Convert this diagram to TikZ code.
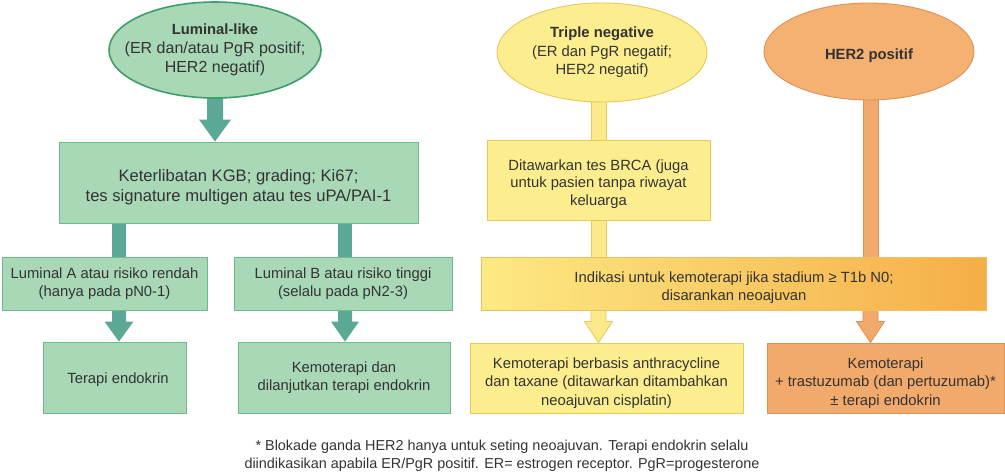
\documentclass[tikz,border=0pt]{standalone}
\usepackage{fontspec}
\setmainfont{Liberation Sans}
\usetikzlibrary{shapes.geometric,calc}
\pgfdeclarelayer{back}
\pgfdeclarelayer{bg}
\pgfsetlayers{back,bg,main}
\newcommand\strutdn[1]{\rule{0pt}{#1}}
\definecolor{txt}{HTML}{333333}
\definecolor{gfill}{HTML}{A8D8B6}
\definecolor{gborder}{HTML}{6DBB8A}
\definecolor{gellborder}{HTML}{3E9E69}
\definecolor{garrowc}{HTML}{5BA897}
\definecolor{yfill}{HTML}{FCEE8F}
\definecolor{yborder}{HTML}{E5C95A}
\definecolor{yshaft}{HTML}{FCE98A}
\definecolor{ofill}{HTML}{F2A96C}
\definecolor{oellfill}{HTML}{F4B172}
\definecolor{oborder}{HTML}{DC9257}
\definecolor{gradL}{HTML}{FDE983}
\definecolor{gradR}{HTML}{F5AE48}
\definecolor{gradB}{HTML}{EAC060}
\tikzset{
  every node/.style={text=txt, font=\fontsize{14.8}{18.5}\selectfont, align=center, inner sep=0pt},
  gbox/.style={draw=gborder, fill=gfill, line width=0.9pt},
  ybox/.style={draw=yborder, fill=yfill, line width=0.9pt},
  obox/.style={draw=oborder, fill=ofill, line width=0.9pt},
  gell/.style={ellipse, draw=gellborder, fill=gfill, line width=1.6pt, inner xsep=-20pt},
  yell/.style={ellipse, draw=yborder, fill=yfill, line width=0.9pt, inner xsep=-8pt},
  oell/.style={ellipse, draw=oborder, fill=oellfill, line width=0.9pt},
  garrow/.style={fill=garrowc, draw=none},
  yarrow/.style={fill=yshaft, draw=yborder, line width=0.8pt},
  oarrow/.style={fill=ofill, draw=oborder, line width=0.8pt},
}
\begin{document}
\begin{tikzpicture}[x=1pt,y=-1pt]
\useasboundingbox (0,0) rectangle (1005,472);
\begin{pgfonlayer}{back}
\fill[white] (0,0) rectangle (1005,472);
\end{pgfonlayer}

% ellipses
\node[gell, minimum width=212, minimum height=96, font=\fontsize{16}{19}\selectfont] (lum) at (215,50)
  {{\fontsize{14.8}{18}\selectfont\textbf{Luminal-like}}\\(ER dan/atau PgR positif;\\HER2 negatif)};
\node[yell, minimum width=210, minimum height=99] (tri) at (602,52.5)
  {\textbf{Triple negative}\\(ER dan PgR negatif;\\HER2 negatif)};
\node[oell, minimum width=210, minimum height=97] (her) at (869,51.5)
  {\strutdn{18.8pt}\textbf{HER2 positif}};

% boxes
\node[gbox, minimum width=359, minimum height=81, font=\fontsize{16.6}{20}\selectfont] (kgb) at (238.5,182.5)
  {\strutdn{22pt}Keterlibatan KGB; grading; Ki67;\\tes signature multigen atau tes uPA/PAI-1};
\node[gbox, minimum width=205, minimum height=53] (luma) at (104.5,283.5)
  {Luminal A atau risiko rendah\\(hanya pada pN0-1)};
\node[gbox, minimum width=218, minimum height=53] (lumb) at (343,283.5)
  {Luminal B atau risiko tinggi\\(selalu pada pN2-3)};
\node[gbox, minimum width=143, minimum height=71] (endo) at (114.5,377.5)
  {\strutdn{14.8pt}\hspace*{7pt}Terapi endokrin};
\node[gbox, minimum width=212, minimum height=71] (kemod) at (344,377.5)
  {Kemoterapi dan\\dilanjutkan terapi endokrin};
\node[ybox, minimum width=223, minimum height=80, font=\fontsize{14.8}{17.5}\selectfont] (brca) at (598.5,180)
  {\strutdn{18.8pt}Ditawarkan tes BRCA (juga\\untuk pasien tanpa riwayat\\keluarga};
\node[draw=gradB, line width=0.9pt, left color=gradL, right color=gradR,
      minimum width=505, minimum height=53, font=\fontsize{14.8}{17.5}\selectfont] (ind) at (734,283.5)
  {\strutdn{18.8pt}Indikasi untuk kemoterapi jika stadium ≥ T1b N0;\\disarankan neoajuvan};
\node[ybox, minimum width=273, minimum height=70] (kemob) at (606.5,378)
  {\strutdn{20.8pt}Kemoterapi berbasis anthracycline\\dan taxane (ditawarkan ditambahkan\\neoajuvan cisplatin)};
\node[obox, minimum width=237, minimum height=70] (kemoo) at (885.5,378)
  {\strutdn{20.8pt}Kemoterapi\\+ trastuzumab (dan pertuzumab)*\\± terapi endokrin};

\node[font=\fontsize{14.4}{18}\selectfont] (foot) at (502,456)
  {* Blokade ganda HER2 hanya untuk seting neoajuvan. Terapi endokrin selalu\\
   diindikasikan apabila ER/PgR positif. ER= estrogen receptor. PgR=progesterone};

% column coordinates
\coordinate (cA) at (119,0);
\coordinate (cB) at (345,0);
\coordinate (cY) at (598.5,0);
\coordinate (cO) at (870.5,0);

\begin{pgfonlayer}{bg}
% green: ellipse -> kgb
\path[garrow] let \p1=(lum.center), \p2=(kgb.north) in
  (\x1-8pt,\y1) -- (\x1-8pt,\y2+22pt) -- (\x1-16pt,\y2+22pt) -- (\x1,\y2)
  -- (\x1+16pt,\y2+22pt) -- (\x1+8pt,\y2+22pt) -- (\x1+8pt,\y1) -- cycle;
% green shafts kgb -> luma / lumb
\path[garrow] let \p1=(cA |- kgb.center), \p2=(cA |- luma.center) in
  (\x1-7pt,\y1) rectangle (\x1+7pt,\y2);
\path[garrow] let \p1=(cB |- kgb.center), \p2=(cB |- lumb.center) in
  (\x1-7pt,\y1) rectangle (\x1+7pt,\y2);
% green arrows luma -> endo, lumb -> kemod
\path[garrow] let \p1=(cA |- luma.center), \p2=(cA |- endo.north) in
  (\x1-7pt,\y1) -- (\x1-7pt,\y2+20pt) -- (\x1-14.5pt,\y2+20pt) -- (\x1,\y2)
  -- (\x1+14.5pt,\y2+20pt) -- (\x1+7pt,\y2+20pt) -- (\x1+7pt,\y1) -- cycle;
\path[garrow] let \p1=(cB |- lumb.center), \p2=(cB |- kemod.north) in
  (\x1-7pt,\y1) -- (\x1-7pt,\y2+20pt) -- (\x1-14pt,\y2+20pt) -- (\x1,\y2)
  -- (\x1+14pt,\y2+20pt) -- (\x1+7pt,\y2+20pt) -- (\x1+7pt,\y1) -- cycle;
% yellow shafts
\path[yarrow] let \p1=(cY |- tri.center), \p2=(cY |- brca.center) in
  (\x1-7.5pt,\y1) rectangle (\x1+7.5pt,\y2);
\path[yarrow] let \p1=(cY |- brca.center), \p2=(cY |- ind.center) in
  (\x1-7.5pt,\y1) rectangle (\x1+7.5pt,\y2);
% yellow arrow ind -> kemob
\path[yarrow] let \p1=(cY |- ind.center), \p2=(cY |- kemob.north) in
  (\x1-7.5pt,\y1) -- (\x1-7.5pt,\y2+21pt) -- (\x1-14pt,\y2+21pt) -- (\x1,\y2)
  -- (\x1+14pt,\y2+21pt) -- (\x1+7.5pt,\y2+21pt) -- (\x1+7.5pt,\y1) -- cycle;
% orange shaft her -> ind
\path[oarrow] let \p1=(cO |- her.center), \p2=(cO |- ind.center) in
  (\x1-7.5pt,\y1) rectangle (\x1+7.5pt,\y2);
% orange arrow ind -> kemoo
\path[oarrow] let \p1=(cO |- ind.center), \p2=(cO |- kemoo.north) in
  (\x1-7.5pt,\y1) -- (\x1-7.5pt,\y2+21pt) -- (\x1-14pt,\y2+21pt) -- (\x1,\y2)
  -- (\x1+14pt,\y2+21pt) -- (\x1+7.5pt,\y2+21pt) -- (\x1+7.5pt,\y1) -- cycle;
\end{pgfonlayer}
\end{tikzpicture}
\end{document}
